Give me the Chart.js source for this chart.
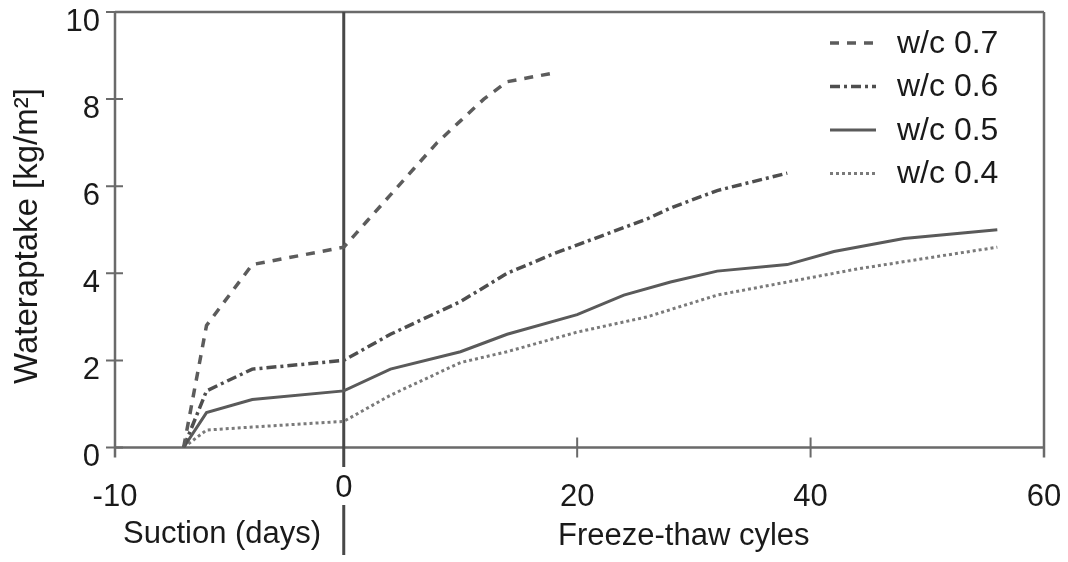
<!DOCTYPE html>
<html>
<head>
<meta charset="utf-8">
<script src="https://cdn.jsdelivr.net/npm/chart.js@4"></script>
<style>
  body { margin: 0; background: #fff; }
  #wrap { width: 1068px; height: 562px; position: relative; }
</style>
</head>
<body>
<div id="wrap"><canvas id="myChart"></canvas></div>
<script>
// suction part uses days, freeze-thaw part uses cycles; both share one x axis
const SUCTION_SCALE = 1.96; // axis units per suction day

const suctionDays = [-7, -6, -4];
const xTickLabels = [-10, 0, 20, 40, 60];
const yTicks = [0, 2, 4, 6, 8, 10];

const cycles07 = [0, 2, 4, 6, 8, 10, 12, 14, 16, 18];
const suction07 = [0, 2.8, 4.2];
const wc07 = [4.6, 5.2, 5.8, 6.4, 7.0, 7.5, 8.0, 8.4, 8.5, 8.6];

const cycles06 = [0, 4, 10, 14, 18, 22, 26, 28, 32, 38];
const suction06 = [0, 1.3, 1.8];
const wc06 = [2.0, 2.6, 3.35, 4.0, 4.45, 4.85, 5.25, 5.5, 5.9, 6.3];

const cycles05 = [0, 4, 10, 14, 20, 24, 28, 32, 38, 42, 48, 56];
const suction05 = [0, 0.8, 1.1];
const wc05 = [1.3, 1.8, 2.2, 2.6, 3.05, 3.5, 3.8, 4.05, 4.2, 4.5, 4.8, 5.0];

const cycles04 = [0, 4, 10, 14, 20, 26, 32, 38, 44, 50, 56];
const suction04 = [0, 0.4, 0.47];
const wc04 = [0.6, 1.2, 1.95, 2.2, 2.65, 3.0, 3.5, 3.8, 4.1, 4.35, 4.6];

const FONT = "'Liberation Sans', Arial, sans-serif";

function points(suctionY, cyc, vals) {
    const a = suctionDays.map((d, i) => ({ x: d * SUCTION_SCALE, y: suctionY[i] }));
    const b = cyc.map((c, i) => ({ x: c, y: vals[i] }));
    return a.concat(b);
}

const frame = {
    id: 'frame',
    beforeDatasetsDraw(chart) {
        const ctx = chart.ctx;
        const a = chart.chartArea;
        const xs = chart.scales.x, ys = chart.scales.y;
        ctx.save();
        ctx.strokeStyle = '#6a6a6a';
        ctx.lineWidth = 2.5;
        ctx.beginPath();
        ctx.moveTo(a.left, a.top - 1);
        ctx.lineTo(a.left, a.bottom + 10);
        ctx.moveTo(a.left, a.top);
        ctx.lineTo(a.right, a.top);
        ctx.moveTo(a.right, a.top);
        ctx.lineTo(a.right, a.bottom + 10);
        ctx.moveTo(a.left, a.bottom);
        ctx.lineTo(a.right, a.bottom);
        ctx.stroke();

        ctx.lineWidth = 2;
        ctx.beginPath();
        yTicks.forEach(v => {
            const py = ys.getPixelForValue(v);
            ctx.moveTo(a.left - 9, py);
            ctx.lineTo(a.left + 8, py);
        });
        [20, 40].forEach(v => {
            const px = xs.getPixelForValue(v);
            ctx.moveTo(px, a.bottom - 10);
            ctx.lineTo(px, a.bottom + 10);
        });
        ctx.stroke();

        // the divider between suction and freeze-thaw
        const x0 = xs.getPixelForValue(0);
        ctx.strokeStyle = '#484848';
        ctx.lineWidth = 3;
        ctx.beginPath();
        ctx.moveTo(x0, a.top);
        ctx.lineTo(x0, 467);
        ctx.moveTo(x0, 505);
        ctx.lineTo(x0, 555);
        ctx.stroke();
        ctx.restore();
    },
    afterDraw(chart) {
        const ctx = chart.ctx;
        ctx.save();
        ctx.fillStyle = '#1a1a1a';
        ctx.textBaseline = 'middle';

        ctx.font = '31px ' + FONT;
        ctx.textAlign = 'left';
        ctx.fillText('Suction (days)', 123, 534);
        ctx.fillText('Freeze-thaw cyles', 558, 536);

        ctx.save();
        ctx.translate(28, 236);
        ctx.rotate(-Math.PI / 2);
        ctx.textAlign = 'center';
        ctx.font = '33px ' + FONT;
        ctx.fillText('Wateraptake [kg/m²]', 0, 0);
        ctx.restore();

        // legend inside the plot, top right
        ctx.font = '32px ' + FONT;
        ctx.textAlign = 'left';
        chart.data.datasets.forEach((ds, i) => {
            const y = 43 + i * 43.5;
            ctx.strokeStyle = ds.borderColor;
            ctx.lineWidth = ds.borderWidth;
            ctx.setLineDash(ds.borderDash || []);
            ctx.beginPath();
            ctx.moveTo(830, y);
            ctx.lineTo(876, y);
            ctx.stroke();
            ctx.setLineDash([]);
            ctx.fillText(ds.label, 897, y + 1);
        });
        ctx.restore();
    }
};

document.addEventListener("DOMContentLoaded", function (event) {
    const ctx = document.getElementById('myChart').getContext('2d');
    const myChart = new Chart(ctx, {
        type: 'line',
        data: {
            datasets: [{
                label: 'w/c 0.7',
                data: points(suction07, cycles07, wc07),
                borderColor: '#5c5c5c',
                borderWidth: 3.5,
                borderDash: [9, 8]
            }, {
                label: 'w/c 0.6',
                data: points(suction06, cycles06, wc06),
                borderColor: '#4e4e4e',
                borderWidth: 3.5,
                borderDash: [10, 4, 3, 4]
            }, {
                label: 'w/c 0.5',
                data: points(suction05, cycles05, wc05),
                borderColor: '#5a5a5a',
                borderWidth: 3
            }, {
                label: 'w/c 0.4',
                data: points(suction04, cycles04, wc04),
                borderColor: '#7a7a7a',
                borderWidth: 3,
                borderDash: [3, 3]
            }]
        },
        options: {
            responsive: true,
            maintainAspectRatio: false,
            animation: false,
            events: [],
            layout: { padding: { top: 12, right: 24, left: 0, bottom: 0 } },
            elements: {
                point: { radius: 0 },
                line: { tension: 0, fill: false, borderCapStyle: 'butt' }
            },
            plugins: {
                legend: { display: false },
                tooltip: { enabled: false }
            },
            scales: {
                x: {
                    type: 'linear',
                    min: -10 * SUCTION_SCALE,
                    max: 60,
                    afterFit(scale) {
                        scale.height = 114.5;
                        scale.paddingLeft = 0;
                        scale.paddingRight = 0;
                    },
                    afterBuildTicks(scale) {
                        scale.ticks = xTickLabels.map(v => ({ value: v < 0 ? v * SUCTION_SCALE : v }));
                    },
                    grid: { display: false, drawTicks: false },
                    border: { display: false },
                    ticks: {
                        autoSkip: false,
                        maxRotation: 0,
                        padding: 31,
                        color: '#1a1a1a',
                        font: (c) => ({ family: FONT, size: 31, lineHeight: c.tick && c.tick.value === 0 ? 0.65 : 1.2 }),
                        callback: (value) => value < 0 ? Math.round(value / SUCTION_SCALE) : value
                    }
                },
                y: {
                    min: 0,
                    max: 10,
                    afterFit(scale) {
                        scale.width = 115;
                        scale.paddingTop = 0;
                        scale.paddingBottom = 0;
                    },
                    grid: { display: false, drawTicks: false },
                    border: { display: false },
                    ticks: {
                        stepSize: 2,
                        padding: 15,
                        labelOffset: 10,
                        color: '#1a1a1a',
                        font: { family: FONT, size: 31 }
                    }
                }
            }
        },
        plugins: [frame]
    });
});
</script>
</body>
</html>
